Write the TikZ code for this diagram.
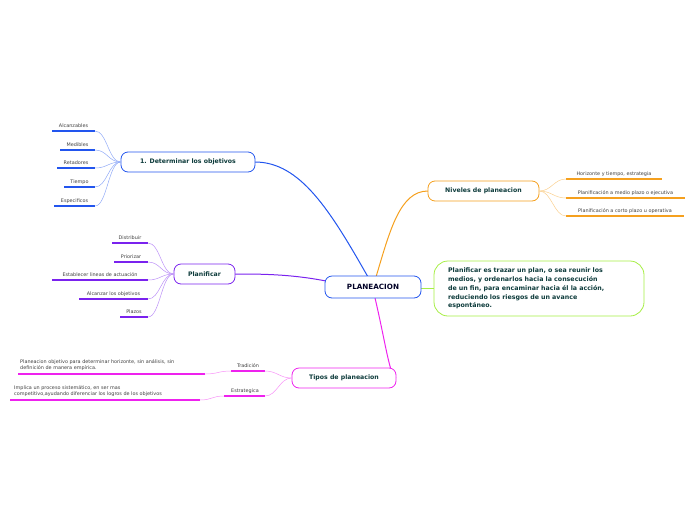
\documentclass[tikz,border=0pt]{standalone}
\usepackage{fontspec}
\setmainfont{DejaVu Sans}
\definecolor{cblue}{HTML}{2255EE}
\definecolor{cpur}{HTML}{7A22EE}
\definecolor{cmag}{HTML}{EE22EE}
\definecolor{corg}{HTML}{F5A01E}
\definecolor{cgrn}{HTML}{A6EE44}
\definecolor{ctxt}{HTML}{0D3B3B}
\begin{document}
\begin{tikzpicture}[x=1pt,y=-1pt,
  main/.style={draw,rounded corners=7pt,fill=white,line width=0.8pt,font=\bfseries\fontsize{6.2}{7}\selectfont,text=ctxt,inner sep=0pt},
  leaft/.style={font=\fontsize{4.9}{5.8}\selectfont,text=black!75,inner sep=0pt,minimum height=6pt,anchor=south},
  uline/.style={line width=1.2pt},
  conn/.style={line width=0.5pt}]
\useasboundingbox (0,0) rectangle (696,520);
% main connectors
\draw[cblue,line width=1pt] (368,277) .. controls (330,210) and (300,162) .. (255,162);
\draw[cpur,line width=1pt] (326,281) .. controls (290,274) and (260,274) .. (235,274);
\draw[cmag,line width=1pt] (375,298) .. controls (385,340) and (390,378) .. (396,378);
\draw[corg,line width=1pt] (376,277) .. controls (390,230) and (400,191) .. (428,191);
\draw[cgrn,line width=1pt] (421,288) -- (434,288);
% main nodes
\node[main,draw=cblue,minimum width=96pt,minimum height=22pt,font=\bfseries\fontsize{7.2}{8}\selectfont,text=black!85!blue] (c) at (373,287) {PLANEACION};
\node[main,draw=cblue,minimum width=134pt,minimum height=20pt] (d) at (188,162) {1. Determinar los objetivos};
\node[main,draw=cpur,minimum width=61pt,minimum height=20pt] (p) at (204.5,274) {Planificar};
\node[main,draw=cmag,minimum width=104pt,minimum height=20pt] (t) at (344,378) {Tipos de planeacion};
\node[main,draw=corg,minimum width=111pt,minimum height=20pt] (n) at (483.5,191) {Niveles de planeacion};
\node[main,draw=cgrn,rounded corners=14pt,minimum width=210pt,minimum height=55pt,align=left,text width=182pt,inner xsep=14pt,font=\bfseries\fontsize{6.3}{8.8}\selectfont] (g) at (539,288.5) {Planificar es trazar un plan, o sea reunir los\\medios, y ordenarlos hacia la consecución\\de un fin, para encaminar hacia él la acción,\\reduciendo los riesgos de un avance\\espontáneo.};
% left blue leaves
\foreach \i/\t/\a/\b/\y in {1/Alcanzables/52/95/131,2/Medibles/60/95/150,3/Retadores/57/95/168,4/Tiempo/64/95/187,5/Especificos/54/95/206}{
  \node[leaft,minimum width={\b-\a}] (db\i) at ({(\a+\b)/2},\y-2) {\t};
  \draw[cblue,uline] (\a,\y) -- (\b,\y);
  \draw[cblue!50,conn] (d.west) .. controls +(-12,0) and +(12,0) .. (\b,\y);
}
\foreach \i/\t/\a/\b/\y in {1/Distribuir/112/148/243,2/Priorizar/114/148/262,3/Establecer lineas de actuación/52/148/280,4/Alcanzar los objetivos/79/148/299,5/Plazos/120/148/317}{
  \node[leaft,minimum width={\b-\a}] (pb\i) at ({(\a+\b)/2},\y-2) {\t};
  \draw[cpur,uline] (\a,\y) -- (\b,\y);
  \draw[cpur!50,conn] (p.west) .. controls +(-12,0) and +(12,0) .. (\b,\y);
}
\foreach \i/\t/\a/\b/\y in {1/Horizonte y tiempo{,} estrategia/566/662/179,2/Planificación a medio plazo o ejecutiva/566/685/198,3/Planificación a corto plazo u operativa/566/684/216}{
  \node[leaft,minimum width={\b-\a}] (nb\i) at ({(\a+\b)/2},\y-2) {\t};
  \draw[corg,uline] (\a,\y) -- (\b,\y);
  \draw[corg!50,conn] (n.east) .. controls +(12,0) and +(-12,0) .. (\a,\y);
}
% tipos leaves
\node[leaft] (tr) at (248,369) {Tradición};
\draw[cmag,uline] (231,371) -- (265,371);
\draw[cmag!50,conn] (t.west) .. controls +(-12,0) and +(12,0) .. (265,371);
\node[leaft] (es) at (245,394) {Estrategica};
\draw[cmag,uline] (224,396) -- (265,396);
\draw[cmag!50,conn] (t.west) .. controls +(-12,0) and +(12,0) .. (265,396);
\node[leaft,anchor=south west,align=left] (tr2) at (20,371) {Planeacion objetivo para determinar horizonte, sin análisis, sin\\definición de manera empírica.};
\draw[cmag,uline] (18,374) -- (205,374);
\draw[cmag!50,conn] (205,374) .. controls (218,374) and (218,371) .. (231,371);
\node[leaft,anchor=south west,align=left] (es2) at (14,397) {Implica un proceso sistemático, en ser mas\\competitivo,ayudando diferenciar los logros de los objetivos};
\draw[cmag,uline] (10,400) -- (200,400);
\draw[cmag!50,conn] (200,400) .. controls (212,400) and (212,396) .. (224,396);
\end{tikzpicture}
\end{document}
